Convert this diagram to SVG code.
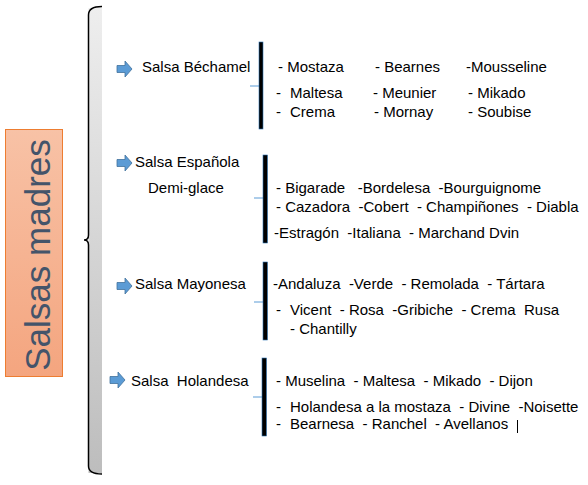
<svg xmlns="http://www.w3.org/2000/svg" width="588" height="485" viewBox="0 0 588 485">
<defs>
<linearGradient id="boxg" x1="0" y1="0" x2="0" y2="1">
<stop offset="0" stop-color="#F8C2A6"/>
<stop offset="1" stop-color="#F4A57F"/>
</linearGradient>
<linearGradient id="braceg" x1="0" y1="0" x2="0" y2="1">
<stop offset="0" stop-color="#EEEEEE"/>
<stop offset="1" stop-color="#BDBDBD"/>
</linearGradient>
<linearGradient id="tipg" x1="0" y1="0" x2="1" y2="0">
<stop offset="0" stop-color="#555555"/>
<stop offset="1" stop-color="#000000"/>
</linearGradient>
<path id="arr" d="M0,-3.5 H8 V-8 L15,0 L8,8 V3.5 H0 Z"/>
</defs>
<style>
text{font-family:"Liberation Sans",Arial,sans-serif;font-size:15px;fill:#000}
.title{font-size:35px;fill:#44546A}
.arrow{fill:#5B9BD5;stroke:#41719C;stroke-width:0.8}
.bar{fill:#000;stroke:#2E75B6;stroke-width:0.6}
.tick{stroke:#5B9BD5;stroke-width:1;fill:none}
</style>
<rect width="588" height="485" fill="#fff"/>

<g id="root">
<rect x="5.5" y="129.5" width="57" height="247" fill="url(#boxg)" stroke="#ED7D31" stroke-width="1"/>
<text class="title" transform="translate(50,255) rotate(-90)" text-anchor="middle">Salsas madres</text>
</g>

<g id="connectors">
<rect x="88.5" y="8" width="13.5" height="465" fill="url(#braceg)"/>
<path d="M102,6.5 C94,6.5 88.5,8.5 88.5,15 L88.5,235 Q88.5,240 84,240 M84,240 Q88.5,240 88.5,245 L88.5,466 C88.5,472 94,474 102,474" fill="none" stroke="#000" stroke-width="1.5"/>
<line x1="70" y1="240" x2="85" y2="240" stroke="url(#tipg)" stroke-width="1.5"/>
<use href="#arr" class="arrow" transform="translate(117,69)"/>
<use href="#arr" class="arrow" transform="translate(117,163)"/>
<use href="#arr" class="arrow" transform="translate(117,286)"/>
<use href="#arr" class="arrow" transform="translate(110,380)"/>
<line class="tick" x1="250" y1="86" x2="259" y2="86"/>
<line class="tick" x1="254" y1="198" x2="263" y2="198"/>
<line class="tick" x1="254" y1="302" x2="263" y2="302"/>
<line class="tick" x1="253" y1="397" x2="262" y2="397"/>
</g>

<g id="n1">
<text x="142" y="72">Salsa Béchamel</text>
<rect class="bar" x="259" y="42" width="4" height="87"/>
<text x="278" y="72">- Mostaza</text>
<text x="375" y="72">- Bearnes</text>
<text x="466" y="72">-Mousseline</text>
<text x="276" y="98">-</text><text x="290" y="98">Maltesa</text>
<text x="373" y="98">- Meunier</text>
<text x="468" y="98">- Mikado</text>
<text x="276" y="117">-</text><text x="290" y="117">Crema</text>
<text x="374" y="117">- Mornay</text>
<text x="468" y="117">- Soubise</text>
</g>

<g id="n2">
<text x="135" y="167">Salsa Española</text>
<text x="148" y="193">Demi-glace</text>
<rect class="bar" x="263" y="155" width="4.5" height="88"/>
<text x="276" y="193" xml:space="preserve">- Bigarade   -Bordelesa  -Bourguignome</text>
<text x="276" y="212" xml:space="preserve">- Cazadora  -Cobert  - Champiñones  - Diabla</text>
<text x="274" y="238" xml:space="preserve">-Estragón  -Italiana  - Marchand Dvin</text>
</g>

<g id="n3">
<text x="135" y="289">Salsa Mayonesa</text>
<rect class="bar" x="263" y="262" width="4.5" height="78"/>
<text x="273" y="289" xml:space="preserve">-Andaluza  -Verde  - Remolada  - Tártara</text>
<text x="276" y="315">-</text><text x="290" y="315" xml:space="preserve">Vicent  - Rosa  -Gribiche  - Crema  Rusa</text>
<text x="290" y="334">- Chantilly</text>
</g>

<g id="n4">
<text x="131" y="386" xml:space="preserve">Salsa  Holandesa</text>
<rect class="bar" x="262" y="358" width="4.5" height="78"/>
<text x="276" y="386" xml:space="preserve">- Muselina  - Maltesa  - Mikado  - Dijon</text>
<text x="276" y="412">-</text><text x="290" y="412" xml:space="preserve">Holandesa a la mostaza  - Divine  -Noisette</text>
<text x="276" y="429">-</text><text x="290" y="429" xml:space="preserve">Bearnesa  - Ranchel  - Avellanos</text>
<line x1="517.5" y1="420" x2="517.5" y2="433" stroke="#000" stroke-width="1"/>
</g>
</svg>
